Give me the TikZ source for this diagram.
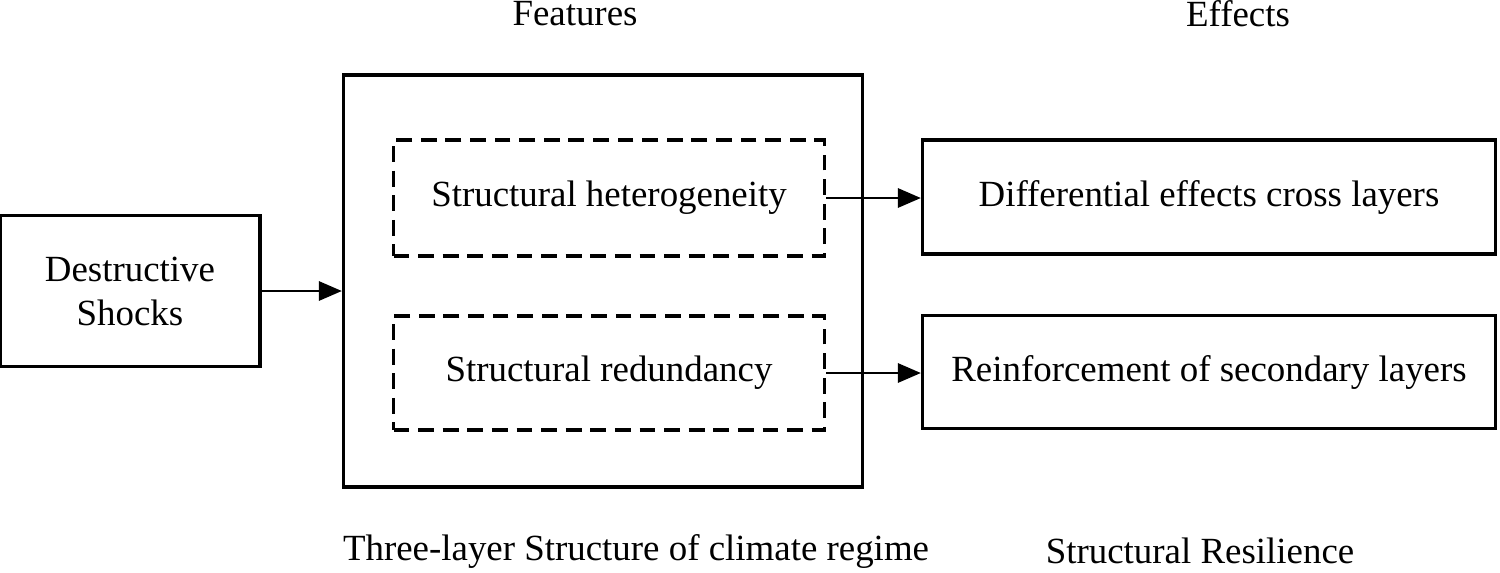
\documentclass[tikz,border=0pt]{standalone}
\usepackage{fontspec}
\setmainfont{Liberation Serif}
\usetikzlibrary{arrows.meta}
\begin{document}
\begin{tikzpicture}[x=0.02cm,y=-0.02cm,
    box/.style={draw, line width=2pt, minimum width=#1, inner sep=0pt, align=center, font=\fontsize{21}{25}\selectfont},
    dbox/.style={box=#1, dashed, dash pattern=on 9pt off 5pt},
    lbl/.style={font=\fontsize{21}{25}\selectfont},
    arr/.style={-{Triangle[length=13pt,width=11pt]}, line width=1pt}]
\useasboundingbox (0,0) rectangle (1500,572);

\node[box=5.2cm, minimum height=3.02cm] (shock) at (130,291) {Destructive\\Shocks};
\node[box=10.38cm, minimum height=8.24cm] (regime) at (603,281) {};
\node[dbox=8.62cm, minimum height=2.32cm] (hetero) at (609,198) {Structural heterogeneity};
\node[dbox=8.62cm, minimum height=2.28cm] (redund) at (609,373) {Structural redundancy};
\node[box=11.46cm, minimum height=2.28cm] (diff) at (1209,197) {Differential effects cross layers};
\node[box=11.46cm, minimum height=2.26cm] (reinf) at (1209,372) {Reinforcement of secondary layers};

\node[lbl] (feat) at (575,14) {Features};
\node[lbl] (eff) at (1238,14) {Effects};
\node[lbl] (three) at (636,551) {Three-layer Structure of climate regime};
\node[lbl] (resil) at (1200,551) {Structural Resilience};

\draw[arr] (shock.east) -- (shock.east -| regime.west);
\draw[arr] (hetero.east) -- (hetero.east -| diff.west);
\draw[arr] (redund.east) -- (redund.east -| reinf.west);
\end{tikzpicture}
\end{document}
